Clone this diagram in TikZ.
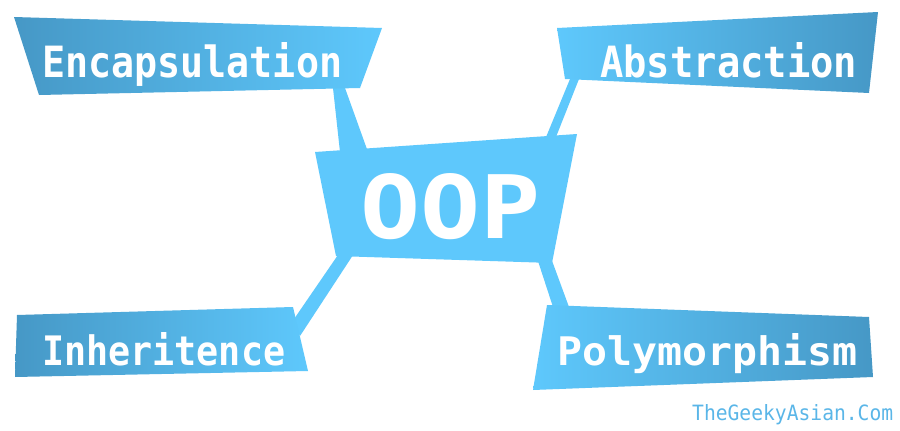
\documentclass[tikz,border=0pt]{standalone}
\usepackage{fontspec}
\setmainfont{DejaVu Sans Mono}
\definecolor{oopL}{HTML}{5EC8FC}
\definecolor{oopD}{HTML}{4698C6}
\definecolor{wm}{HTML}{5AB6E8}
\begin{document}
\begin{tikzpicture}[x=1pt,y=-1pt,
  lbl/.style={text=white,inner sep=0pt,anchor=base west,font=\bfseries},
  link/.style={fill=oopL},
  boxLR/.style={left color=oopD,right color=oopL},
  boxRL/.style={left color=oopL,right color=oopD}]
\useasboundingbox (0,0) rectangle (900,431);
\fill[white] (0,0) rectangle (900,431);
% connectors
\fill[link] (333,88) -- (345,88) -- (368,152) -- (340,152) -- cycle;
\fill[link] (570,79) -- (579,79) -- (554,142) -- (544,142) -- cycle;
\fill[link] (340,252) -- (355,252) -- (300,336) -- (292,322) -- cycle;
\fill[link] (537,258) -- (551,258) -- (569,307) -- (553,307) -- cycle;
% boxes
\coordinate (e1) at (14,17); \coordinate (e2) at (382,28); \coordinate (e3) at (360,88); \coordinate (e4) at (39,95);
\shade[boxLR] (e1) -- (e2) -- (e3) -- (e4) -- cycle;
\coordinate (a1) at (557,28); \coordinate (a2) at (878,12); \coordinate (a3) at (869,93); \coordinate (a4) at (565,79);
\shade[boxRL] (a1) -- (a2) -- (a3) -- (a4) -- cycle;
\coordinate (o1) at (315,152); \coordinate (o2) at (577,134); \coordinate (o3) at (552,263); \coordinate (o4) at (336,256);
\fill[oopL] (o1) -- (o2) -- (o3) -- (o4) -- cycle;
\coordinate (i1) at (17,315); \coordinate (i2) at (293,307); \coordinate (i3) at (308,371); \coordinate (i4) at (15,377);
\shade[boxLR] (i1) -- (i2) -- (i3) -- (i4) -- cycle;
\coordinate (p1) at (547,305); \coordinate (p2) at (869,317); \coordinate (p3) at (873,377); \coordinate (p4) at (533,390);
\shade[boxRL] (p1) -- (p2) -- (p3) -- (p4) -- cycle;
% labels
\node[lbl] (enc) at (42,77) {\resizebox{300pt}{35pt}{Encapsulation}};
\node[lbl] (abs) at (600,77) {\resizebox{257pt}{35pt}{Abstraction}};
\node[lbl] (inh) at (42,365) {\resizebox{243pt}{33pt}{Inheritence}};
\node[lbl] (pol) at (557,365) {\resizebox{300pt}{32pt}{Polymorphism}};
\node[lbl] (oop) at (360,238) {\resizebox{180pt}{65pt}{OOP}};
\node[lbl,text=wm,font=\normalfont] (wmk) at (692,420) {\resizebox{201pt}{16pt}{TheGeekyAsian.Com}};
\end{tikzpicture}
\end{document}
